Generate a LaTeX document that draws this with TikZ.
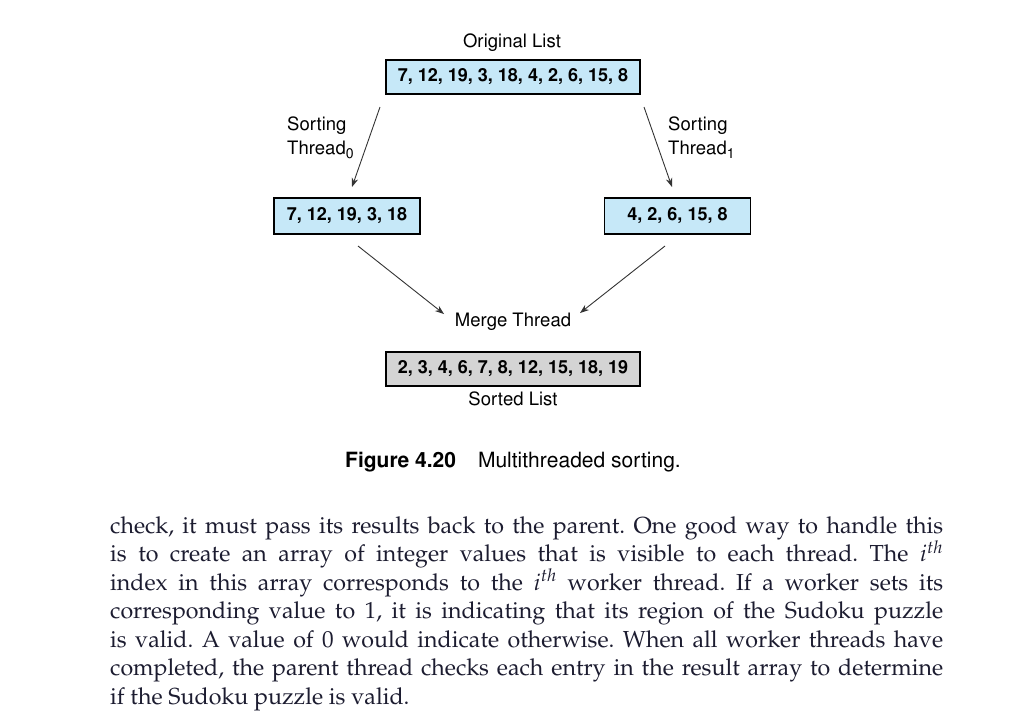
\documentclass[tikz,border=0pt]{standalone}
\usepackage[T1]{fontenc}
\usepackage{mathpazo}
\usepackage{helvet}
\usetikzlibrary{arrows.meta}
\frenchspacing
\definecolor{boxblue}{HTML}{C6E8F8}
\definecolor{boxgrey}{HTML}{D4D4D4}
\definecolor{arrowgrey}{HTML}{333333}
\definecolor{bodyink}{HTML}{1C1C30}
\tikzset{
  lbl/.style={font=\sffamily\fontsize{18.5}{24}\selectfont, inner sep=0pt, text=black},
  listbox/.style={draw=black, line width=1.6pt, minimum height=34pt, inner sep=0pt,
    font=\sffamily\bfseries\fontsize{18}{22}\selectfont},
  flow/.style={draw=arrowgrey, line width=0.9pt, -{Stealth[length=9pt,width=6.5pt]}},
  bodyline/.style={anchor=base west, inner sep=0pt, text=bodyink,
    font=\frenchspacing\fontsize{23.2}{28.5}\selectfont}
}
\begin{document}
\begin{tikzpicture}[x=1pt,y=-1pt]
\useasboundingbox (0,0) rectangle (1024,723);
% labels and boxes
\node[lbl] (origlbl) at (512,43) {Original List};
\node[listbox, fill=boxblue, minimum width=254pt] (orig) at (513,77) {7, 12, 19, 3, 18, 4, 2, 6, 15, 8};
\node[lbl, anchor=west, align=left] (st0) at (287,138) {Sorting\\Thread\textsubscript{0}};
\node[lbl, anchor=west, align=left] (st1) at (668,138) {Sorting\\Thread\textsubscript{1}};
\node[listbox, fill=boxblue, minimum width=146pt, minimum height=36pt] (left) at (347,216) {7, 12, 19, 3, 18};
\node[listbox, fill=boxblue, minimum width=146pt, minimum height=36pt] (right) at (677.5,216) {4, 2, 6, 15, 8};
\node[lbl] (merge) at (513,322) {Merge Thread};
\node[listbox, fill=boxgrey, minimum width=254pt] (sorted) at (513,369) {2, 3, 4, 6, 7, 8, 12, 15, 18, 19};
\node[lbl] (sortedlbl) at (513,399) {Sorted List};
% arrow end points
\coordinate (a0s) at (380,107);
\coordinate (a0e) at (352,187);
\coordinate (a1s) at (644,107);
\coordinate (a1e) at (672,187);
\coordinate (m0s) at (358,246);
\coordinate (m0e) at (444,314);
\coordinate (m1s) at (665,246);
\coordinate (m1e) at (580,313);
\draw[flow] (a0s) -- (a0e);
\draw[flow] (a1s) -- (a1e);
\draw[flow] (m0s) -- (m0e);
\draw[flow] (m1s) -- (m1e);
% caption
\node[inner sep=0pt, font=\sffamily\fontsize{21}{25}\selectfont] (caption) at (513,462)
  {{\bfseries Figure 4.20}\hspace{22pt}Multithreaded sorting.};
% body text
\node[bodyline] (l1) at (110,533) {\makebox[833pt][s]{check, it must pass its results back to the parent. One good way to handle this}};
\node[bodyline] (l2) at (110,561.5) {\makebox[833pt][s]{is to create an array of integer values that is visible to each thread. The $i^{th}$}};
\node[bodyline] (l3) at (110,590) {\makebox[833pt][s]{index in this array corresponds to the $i^{th}$ worker thread. If a worker sets its}};
\node[bodyline] (l4) at (110,618.5) {\makebox[833pt][s]{corresponding value to 1, it is indicating that its region of the Sudoku puzzle}};
\node[bodyline] (l5) at (110,647) {\makebox[833pt][s]{is valid. A value of 0 would indicate otherwise. When all worker threads have}};
\node[bodyline] (l6) at (110,675.5) {\makebox[833pt][s]{completed, the parent thread checks each entry in the result array to determine}};
\node[bodyline] (l7) at (110,704) {if the Sudoku puzzle is valid.};
\end{tikzpicture}
\end{document}
